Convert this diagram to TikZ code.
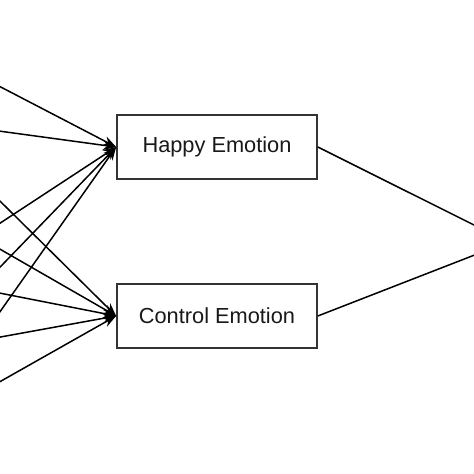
\documentclass[tikz,border=0pt]{standalone}
\usepackage{fontspec}
\setmainfont{Liberation Sans}
\usetikzlibrary{arrows.meta}
\begin{document}
\begin{tikzpicture}[x=0.02cm, y=-0.02cm, node distance=3.38cm, every node/.style={font=\fontsize{12.4}{14}\selectfont}]
    % Styles
    \tikzstyle{emotion} = [rectangle, minimum width=4cm, minimum height=1.28cm, text centered, draw=black!80, line width=1pt, fill=white, text=black!90]
    \tikzstyle{arrow} = [line width=0.85pt, -{Stealth[length=7.5pt, width=5.5pt]}]
    \tikzstyle{path} = [line width=0.85pt]

    \useasboundingbox (0,0) rectangle (474,474);
    \clip (0,0) rectangle (474,474);

    % Nodes
    \node (happy)   [emotion] at (217,147) {Happy Emotion};
    \node (control) [emotion, below of=happy] {Control Emotion};

    % Indicators (outside the frame)
    \coordinate (ind1) at (-82,44);
    \coordinate (ind2) at (-82,120);
    \coordinate (ind3) at (-82,202);
    \coordinate (ind4) at (-82,277);
    \coordinate (ind5) at (-82,352);
    \coordinate (ind6) at (-82,428);
    \coordinate (outcome) at (508,242);

    % Arrows
    \draw [arrow] (ind1) -- (happy.west);
    \draw [arrow] (ind2) -- (happy.west);
    \draw [arrow] (ind4) -- (happy.west);
    \draw [arrow] (ind5) -- (happy.west);
    \draw [arrow] (ind6) -- (happy.west);
    \draw [arrow] (ind2) -- (control.west);
    \draw [arrow] (ind3) -- (control.west);
    \draw [arrow] (ind4) -- (control.west);
    \draw [arrow] (ind5) -- (control.west);
    \draw [arrow] (ind6) -- (control.west);
    \draw [path] (happy.east) -- (outcome);
    \draw [path] (control.east) -- (outcome);
\end{tikzpicture}
\end{document}
